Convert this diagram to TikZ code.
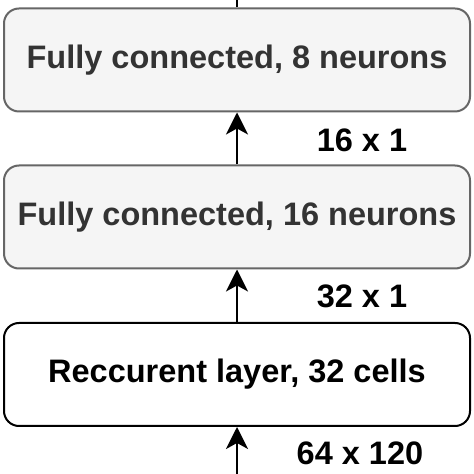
\documentclass[tikz,border=0pt]{standalone}
\usepackage{fontspec}
\setmainfont{Liberation Sans}
\usetikzlibrary{arrows.meta}
\definecolor{boxfill}{HTML}{F5F5F5}
\definecolor{boxline}{HTML}{666666}
\definecolor{boxtext}{HTML}{333333}
\begin{document}
\begin{tikzpicture}[x=1pt,y=1pt,
  layer/.style={draw, rounded corners=15pt, line width=2pt, minimum width=466pt, minimum height=103pt, inner sep=0pt, font=\fontsize{32.5}{38}\selectfont\bfseries},
  fcbox/.style={layer, draw=boxline, fill=boxfill, text=boxtext},
  rnnbox/.style={layer, draw=black, fill=white, text=black},
  conn/.style={line width=2pt, -{Stealth[length=22pt,width=22pt,inset=6pt]}},
  dimlabel/.style={font=\fontsize{32.5}{38}\selectfont\bfseries, text=black}]
\useasboundingbox (0,0) rectangle (474,474);
\node[fcbox] (fc8) at (237,414) {Fully connected, 8 neurons};
\node[fcbox] (fc16) at (237,257) {Fully connected, 16 neurons};
\node[rnnbox] (rnn) at (237,99.5) {Reccurent layer, 32 cells};
\coordinate (top) at (237,474);
\coordinate (bot) at (237,0);
\draw[line width=2pt] (fc8.north) -- (top);
\draw[conn] (fc16.north) -- (fc8.south);
\draw[conn] (rnn.north) -- (fc16.south);
\draw[conn] (bot) -- (rnn.south);
\node[dimlabel] (l16) at (362,334) {16 x 1};
\node[dimlabel] (l32) at (362,178) {32 x 1};
\node[dimlabel] (l64) at (360,21) {64 x 120};
\end{tikzpicture}
\end{document}
